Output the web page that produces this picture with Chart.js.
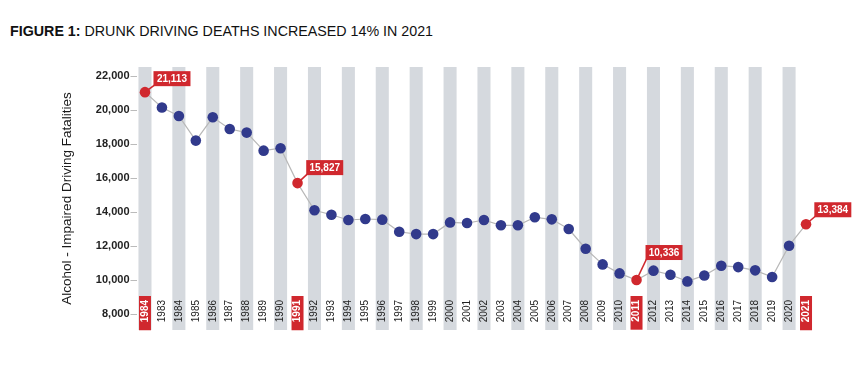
<!DOCTYPE html>
<html><head><meta charset="utf-8">
<script src="https://cdn.jsdelivr.net/npm/chart.js@4.4.1/dist/chart.umd.min.js"></script>
<style>
html,body{margin:0;padding:0;background:#fff;}
#wrap{position:relative;width:865px;height:375px;overflow:hidden;}
#title{position:absolute;left:10px;top:23px;font-family:'Liberation Sans',Arial,sans-serif;font-size:15px;line-height:15px;color:#111;white-space:nowrap;transform-origin:0 0;transform:scaleX(0.951);}
canvas{position:absolute;left:0;top:0;}
</style></head>
<body><div id="wrap"><div id="title"><b>FIGURE 1:</b> DRUNK DRIVING DEATHS INCREASED 14% IN 2021</div><canvas id="c" width="865" height="375"></canvas></div>
<script>
// ---- data ----
const years = ['1984','1983','1984','1985','1986','1987','1988','1989','1990','1991',
  '1992','1993','1994','1995','1996','1997','1998','1999','2000','2001',
  '2002','2003','2004','2005','2006','2007','2008','2009','2010','2011',
  '2012','2013','2014','2015','2016','2017','2018','2019','2020','2021'];
const fatalities = [21050,20150,19650,18200,19570,18880,18670,17610,17750,15700,
  14100,13840,13530,13590,13550,12840,12700,12700,13390,13350,
  13530,13220,13220,13690,13570,13000,11840,10920,10390,10000,
  10550,10310,9920,10270,10840,10760,10570,10180,12020,13280];
const highlightIdx = [0, 9, 29, 39];
const calloutText = ['21,113', '15,827', '10,336', '13,384'];
const yTicks = [8000, 10000, 12000, 14000, 16000, 18000, 20000, 22000];
const yMin = 7060, yMax = 22530;

// ---- style ----
const RED = '#d0282e', BLUE = '#313a8c', BAND = '#d5d9de', LINE = '#b8b8b8';
const FONT = "'Liberation Sans', Arial, sans-serif";
const calloutOffset = [{dx:8.5,dy:-6},{dx:8.7,dy:-8},{dx:9,dy:-20},{dx:8.3,dy:-7}];
const isHi = i => highlightIdx.includes(i);
const fmt = v => String(v).replace(/\B(?=(\d{3})+(?!\d))/g, ',');
const bandData = years.map((_, i) => i % 2 === 0 ? [yMin, yMax] : null);

const calloutPlugin = {
  id: 'callouts',
  afterDatasetsDraw(chart) {
    const ctx = chart.ctx;
    const meta = chart.getDatasetMeta(0);
    ctx.save();
    highlightIdx.forEach((idx, k) => {
      const el = meta.data[idx];
      const o = calloutOffset[k];
      const bx = el.x + o.dx, by = el.y + o.dy;
      const w = 37, h = 15;
      ctx.strokeStyle = RED; ctx.lineWidth = 1.6;
      ctx.beginPath(); ctx.moveTo(el.x, el.y); ctx.lineTo(bx + 1, by - 1); ctx.stroke();
      ctx.fillStyle = RED; ctx.fillRect(bx, by - h, w, h);
      ctx.fillStyle = '#fff'; ctx.font = 'bold 10px ' + FONT;
      ctx.textAlign = 'center'; ctx.textBaseline = 'middle';
      ctx.fillText(calloutText[k], bx + w / 2, by - h / 2 + 0.5);
    });
    ctx.restore();
  }
};

new Chart(document.getElementById('c'), {
  data: {
    labels: years,
    datasets: [
      { type: 'line', data: fatalities, borderColor: LINE, borderWidth: 1.2, tension: 0,
        pointRadius: 5.3, pointBorderWidth: 0, pointHoverRadius: 5.3,
        pointBackgroundColor: c => isHi(c.dataIndex) ? RED : BLUE, order: 0 },
      { type: 'bar', data: bandData, backgroundColor: BAND, barPercentage: 0.77,
        categoryPercentage: 1, order: 1 }
    ]
  },
  options: {
    responsive: false, animation: false, devicePixelRatio: 1,
    layout: { padding: { left: 58, right: 50.5, top: 67, bottom: 45 } },
    plugins: { legend: { display: false }, tooltip: { enabled: false } },
    scales: {
      x: {
        type: 'category', offset: true,
        grid: { display: false, drawTicks: false }, border: { display: false },
        ticks: {
          z: 1,
          autoSkip: false, minRotation: 90, maxRotation: 90, mirror: true, padding: 30,
          labelOffset: 6,
          font: c => ({ family: FONT, size: 10, weight: isHi(c.index) ? 'bold' : 'normal' }),
          color: c => isHi(c.index) ? '#fff' : '#222',
          showLabelBackdrop: true,
          backdropColor: c => isHi(c.index) ? RED : 'rgba(0,0,0,0)',
          backdropPadding: { left: 8, right: 4, top: 0, bottom: 0 }
        },
        afterFit(s) { s.height = 0; }
      },
      y: {
        min: yMin, max: yMax, position: 'left',
        grid: { display: true, drawOnChartArea: false, drawTicks: true, tickLength: 6, color: '#bbb' },
        border: { display: false },
        ticks: { padding: 1, color: '#222', font: { family: FONT, size: 11, weight: 'bold' }, callback: v => fmt(v) },
        afterBuildTicks(s) { s.ticks = yTicks.map(v => ({ value: v })); },
        title: { display: true, text: 'Alcohol - Impaired Driving Fatalities', color: '#1a1a1a',
          font: { family: FONT, size: 13.5 }, padding: { top: 1, bottom: 0 } },
        afterFit(s) { s.width = 78.5; }
      }
    }
  },
  plugins: [calloutPlugin]
});
</script>
</body></html>
